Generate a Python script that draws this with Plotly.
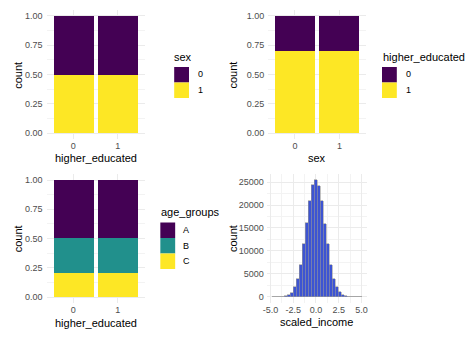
import plotly.graph_objects as go

W, H = 474, 338

# ---------------- data ----------------
he_levels = ['0', '1']          # higher_educated categories (x of panels 1 & 3)
sex_levels = ['0', '1']         # sex categories (x of panel 2)

# panel 1: proportion of sex within higher_educated
p1_sex0 = [0.5, 0.5]
p1_sex1 = [0.5, 0.5]
# panel 2: proportion of higher_educated within sex
p2_he0 = [0.3, 0.3]
p2_he1 = [0.7, 0.7]
# panel 3: proportion of age_groups within higher_educated
p3_A = [0.5, 0.5]
p3_B = [0.3, 0.3]
p3_C = [0.2, 0.2]

# panel 4: histogram of scaled_income (bin centres and counts)
hist_centers = [-4.62, -4.29, -3.96, -3.63, -3.30, -2.97, -2.64, -2.31, -1.98, -1.65,
                -1.32, -0.99, -0.66, -0.33, 0.00, 0.33, 0.66, 0.99, 1.32, 1.65,
                1.98, 2.31, 2.64, 2.97, 3.30, 3.63, 3.96, 4.29, 4.62, 4.95]
hist_counts = [1, 4, 14, 45, 140, 350, 920, 2080, 3950, 7000,
               11500, 16000, 20900, 24200, 25400, 24150, 20800, 15900, 11450, 6950,
               3920, 2060, 930, 355, 145, 48, 15, 5, 2, 1]
hist_binwidth = 0.33

prop_ticks = [0, 0.25, 0.5, 0.75, 1.0]
prop_ticktext = ['0.00', '0.25', '0.50', '0.75', '1.00']
inc_ticks = [-5, -2.5, 0, 2.5, 5]
inc_ticktext = ['-5.0', '-2.5', '0.0', '2.5', '5.0']
cnt_ticks = [0, 5000, 10000, 15000, 20000, 25000]
cnt_ticktext = ['0', '5000', '10000', '15000', '20000', '25000']

# ---------------- style ----------------
PURPLE = '#440154'
TEAL = '#21908C'
YELLOW = '#FDE725'
FONT = 'Liberation Sans, Arial, sans-serif'
GRID = '#EBEBEB'
MINOR = '#F3F3F3'
TICKC = '#4D4D4D'


def px(x):
    return x / W


def py(y):
    return 1 - y / H


fig = go.Figure()

# panel 1 (stack order: last level at bottom)
fig.add_trace(go.Bar(x=he_levels, y=p1_sex1, marker_color=YELLOW, width=0.9,
                     marker_line_width=0, xaxis='x', yaxis='y', showlegend=False))
fig.add_trace(go.Bar(x=he_levels, y=p1_sex0, marker_color=PURPLE, width=0.9,
                     marker_line_width=0, xaxis='x', yaxis='y', showlegend=False))
# panel 2
fig.add_trace(go.Bar(x=sex_levels, y=p2_he1, marker_color=YELLOW, width=0.9,
                     marker_line_width=0, xaxis='x2', yaxis='y2', showlegend=False))
fig.add_trace(go.Bar(x=sex_levels, y=p2_he0, marker_color=PURPLE, width=0.9,
                     marker_line_width=0, xaxis='x2', yaxis='y2', showlegend=False))
# panel 3
fig.add_trace(go.Bar(x=he_levels, y=p3_C, marker_color=YELLOW, width=0.9,
                     marker_line_width=0, xaxis='x3', yaxis='y3', showlegend=False))
fig.add_trace(go.Bar(x=he_levels, y=p3_B, marker_color=TEAL, width=0.9,
                     marker_line_width=0, xaxis='x3', yaxis='y3', showlegend=False))
fig.add_trace(go.Bar(x=he_levels, y=p3_A, marker_color=PURPLE, width=0.9,
                     marker_line_width=0, xaxis='x3', yaxis='y3', showlegend=False))
# panel 4 histogram
fig.add_trace(go.Bar(x=hist_centers, y=hist_counts, width=hist_binwidth,
                     marker_color='#3D54D2', marker_line_color='#9A9A9A',
                     marker_line_width=0.6, xaxis='x4', yaxis='y4', showlegend=False))

# domains (pixel based)
dx_left = [px(43), px(142)]
dx_right_top = [px(267), px(366)]
dx_right_bot = [px(265.6), px(366.8)]
dy_top = [py(139), py(10)]
dy_bot = [py(302.9), py(174.2)]

tickfont = dict(family=FONT, size=9, color=TICKC)


def cat_x(domain, anchor):
    return dict(domain=domain, anchor=anchor, type='category', range=[-0.6, 1.6],
                showgrid=True, gridcolor=GRID, gridwidth=1, zeroline=False,
                showline=False, ticks='', tickfont=tickfont, fixedrange=True)


def prop_y(domain, anchor):
    return dict(domain=domain, anchor=anchor, range=[-0.05, 1.05],
                tickvals=prop_ticks, ticktext=prop_ticktext,
                showgrid=True, gridcolor=GRID, gridwidth=1, zeroline=False,
                showline=False, ticks='', tickfont=tickfont, ticklabelstandoff=3,
                minor=dict(tick0=0.125, dtick=0.25, showgrid=True,
                           gridcolor=MINOR, gridwidth=0.6, ticks=''))


fig.update_layout(
    width=W, height=H, margin=dict(l=0, r=0, t=0, b=0),
    paper_bgcolor='white', plot_bgcolor='white',
    barmode='stack', bargap=0,
    font=dict(family=FONT, size=11, color='black'),
    xaxis=cat_x(dx_left, 'y'),
    yaxis=prop_y(dy_top, 'x'),
    xaxis2=cat_x(dx_right_top, 'y2'),
    yaxis2=prop_y(dy_top, 'x2'),
    xaxis3=cat_x(dx_left, 'y3'),
    yaxis3=prop_y(dy_bot, 'x3'),
    xaxis4=dict(domain=dx_right_bot, anchor='y4', range=[-5.4, 5.6],
                tickvals=inc_ticks, ticktext=inc_ticktext,
                showgrid=True, gridcolor=GRID, gridwidth=1, zeroline=False,
                showline=False, ticks='', tickfont=tickfont,
                minor=dict(tick0=-3.75, dtick=2.5, showgrid=True,
                           gridcolor=MINOR, gridwidth=0.6, ticks='')),
    yaxis4=dict(domain=dy_bot, anchor='x4', range=[-1300, 26700],
                tickvals=cnt_ticks, ticktext=cnt_ticktext,
                showgrid=True, gridcolor=GRID, gridwidth=1, zeroline=False,
                showline=False, ticks='', tickfont=tickfont, ticklabelstandoff=2,
                minor=dict(tick0=2500, dtick=5000, showgrid=True,
                           gridcolor=MINOR, gridwidth=0.6, ticks='')),
)

annotations = []
shapes = []


def ann(x, y, text, size=11, color='black', xanchor='center', yanchor='middle', angle=0):
    annotations.append(dict(x=px(x), y=py(y), xref='paper', yref='paper', text=text,
                            showarrow=False, xanchor=xanchor, yanchor=yanchor,
                            textangle=angle, font=dict(family=FONT, size=size, color=color)))


# axis titles
ann(92.5, 158, 'higher_educated')
ann(316.5, 158, 'sex')
ann(92.5, 323, 'higher_educated')
ann(316, 322, 'scaled_income')
ann(14, 75, 'count', angle=-90)
ann(231, 75, 'count', angle=-90)
ann(14, 238.5, 'count', angle=-90)
ann(231, 238.5, 'count', angle=-90)


def key(x0, y0, color):
    shapes.append(dict(type='rect', xref='paper', yref='paper',
                       x0=px(x0), x1=px(x0 + 15), y0=py(y0 + 15.5), y1=py(y0),
                       fillcolor=color, line=dict(width=0)))


# legend: sex
ann(170, 57, 'sex', xanchor='left')
key(172, 67, PURPLE)
key(172, 82.5, YELLOW)
ann(194, 74.5, '0', size=9, xanchor='left')
ann(194, 90, '1', size=9, xanchor='left')

# legend: higher_educated
ann(381, 57, 'higher_educated', xanchor='left')
key(382, 67, PURPLE)
key(382, 82.5, YELLOW)
ann(404, 74.5, '0', size=9, xanchor='left')
ann(404, 90, '1', size=9, xanchor='left')

# legend: age_groups
ann(157, 212, 'age_groups', xanchor='left')
key(158, 222.5, PURPLE)
key(158, 238, TEAL)
key(158, 253.5, YELLOW)
ann(179, 230, 'A', size=9, xanchor='left')
ann(179, 245.5, 'B', size=9, xanchor='left')
ann(179, 261, 'C', size=9, xanchor='left')

fig.update_layout(annotations=annotations, shapes=shapes)

fig.write_html('out.html')
